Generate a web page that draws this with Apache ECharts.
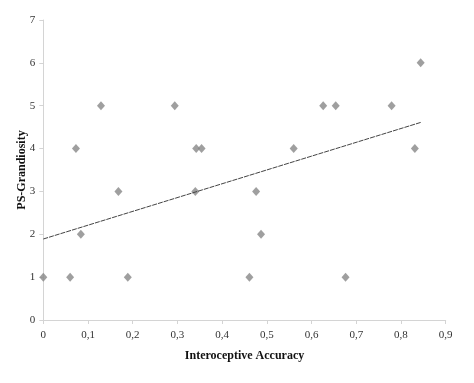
<!DOCTYPE html>
<html>
<head>
<meta charset="utf-8">
<script src="https://cdn.jsdelivr.net/npm/echarts@6/dist/echarts.min.js"></script>
<style>html,body{margin:0;padding:0;background:#fff}#c{width:474px;height:383px}</style>
</head>
<body>
<div id="c"></div>
<script>
const accuracy = [0, 0.060, 0.073, 0.084, 0.129, 0.168, 0.189, 0.294, 0.340, 0.342, 0.354, 0.461, 0.476, 0.487, 0.560, 0.626, 0.654, 0.676, 0.779, 0.831, 0.844];
const grandiosity = [1, 1, 4, 2, 5, 3, 1, 5, 3, 4, 4, 1, 3, 2, 4, 5, 5, 1, 5, 4, 6];
const trendX = [0, 0.844];
const trendY = [1.89, 4.61];
const xTicks = ['0', '0,1', '0,2', '0,3', '0,4', '0,5', '0,6', '0,7', '0,8', '0,9'];
const yTicks = ['0', '1', '2', '3', '4', '5', '6', '7'];

const font = 'Liberation Serif';
const chart = echarts.init(document.getElementById('c'), null, {renderer: 'canvas'});
chart.setOption({
  animation: false,
  backgroundColor: '#fff',
  grid: {left: 43.3, right: 28.3, top: 20, bottom: 63, containLabel: false},
  xAxis: {
    type: 'value', min: 0, max: 0.9, interval: 0.1,
    name: 'Interoceptive Accuracy', nameLocation: 'middle', nameGap: 30,
    nameMoveOverlap: false,
    nameTextStyle: {fontFamily: font, fontWeight: 'bold', fontSize: 12, color: '#111'},
    axisLine: {show: true, lineStyle: {color: '#d4d4d4', width: 1}},
    axisTick: {show: true, length: 4, lineStyle: {color: '#d4d4d4'}},
    splitLine: {show: false},
    axisLabel: {fontFamily: font, fontSize: 11, color: '#333', margin: 10,
      formatter: v => xTicks[Math.round(v * 10)]}
  },
  yAxis: {
    type: 'value', min: 0, max: 7, interval: 1,
    name: 'PS-Grandiosity', nameLocation: 'middle', nameGap: 15,
    nameMoveOverlap: false,
    nameTextStyle: {fontFamily: font, fontWeight: 'bold', fontSize: 12, color: '#111'},
    axisLine: {show: true, lineStyle: {color: '#d4d4d4', width: 1}},
    axisTick: {show: true, length: 4, lineStyle: {color: '#d4d4d4'}},
    splitLine: {show: false},
    axisLabel: {fontFamily: font, fontSize: 11, color: '#333', margin: 8,
      formatter: v => yTicks[Math.round(v)]}
  },
  series: [
    {
      type: 'line',
      data: trendX.map((x, i) => [x, trendY[i]]),
      symbol: 'none',
      lineStyle: {color: '#444', width: 1, type: [5, 1]},
      z: 3
    },
    {
      type: 'scatter',
      data: accuracy.map((x, i) => [x, grandiosity[i]]),
      symbol: 'diamond',
      symbolSize: [8, 9],
      itemStyle: {color: '#878787'},
      z: 2
    }
  ]
});
</script>
</body>
</html>
